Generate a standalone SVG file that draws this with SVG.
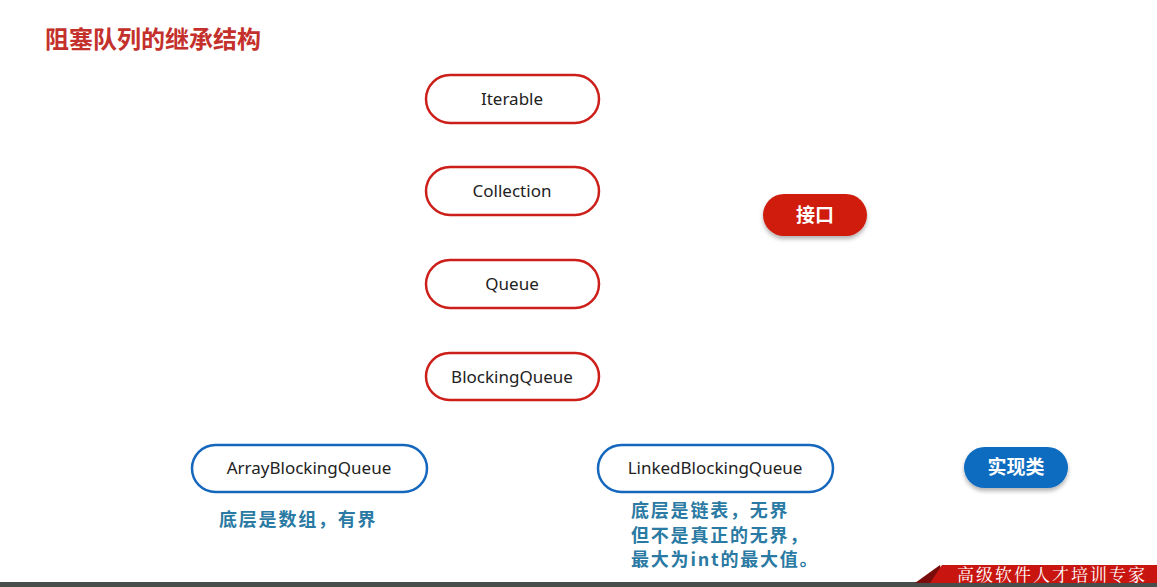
<svg xmlns="http://www.w3.org/2000/svg" width="1157" height="587" viewBox="0 0 1157 587">
<style>
.title{font-family:"Noto Sans CJK SC","Noto Sans",sans-serif;font-weight:bold;font-size:24px;fill:#c4302b}
.ifc rect{fill:#fff;stroke:#cc1f1a;stroke-width:2.5}
.cls rect{fill:#fff;stroke:#1467bd;stroke-width:2.5}
.lbl{font-family:"Noto Sans","Open Sans",sans-serif;font-size:17px;fill:#222;text-anchor:middle}
.btn{font-family:"Noto Sans CJK SC",sans-serif;font-size:19px;fill:#fff;text-anchor:middle;font-weight:bold}
.note{font-family:"Noto Sans CJK SC",sans-serif;font-size:18px;font-weight:bold;fill:#2a7aa3;letter-spacing:1.8px}
.banner{font-family:"Noto Serif CJK SC","Noto Sans CJK SC",serif;font-size:17px;fill:#fff;letter-spacing:2px}
</style>
<defs>
<filter id="sh" x="-20%" y="-20%" width="140%" height="160%"><feDropShadow dx="0" dy="3" stdDeviation="2" flood-color="#000" flood-opacity="0.3"/></filter>
</defs>
<rect width="1157" height="587" fill="#fff"/>
<text class="title" x="45" y="48">阻塞队列的继承结构</text>
<g id="iterable" class="ifc"><rect x="426" y="75" width="173" height="48" rx="24"/><text class="lbl" x="512" y="105">Iterable</text></g>
<g id="collection" class="ifc"><rect x="426" y="167" width="173" height="48" rx="24"/><text class="lbl" x="512" y="197">Collection</text></g>
<g id="queue" class="ifc"><rect x="426" y="260" width="173" height="48" rx="24"/><text class="lbl" x="512" y="290">Queue</text></g>
<g id="blockingqueue" class="ifc"><rect x="426" y="353" width="173" height="47" rx="23.5"/><text class="lbl" x="512" y="383">BlockingQueue</text></g>
<g id="arrayblockingqueue" class="cls"><rect x="192" y="445" width="235" height="47" rx="23.5"/><text class="lbl" x="309" y="474">ArrayBlockingQueue</text></g>
<g id="linkedblockingqueue" class="cls"><rect x="598" y="445" width="235" height="47" rx="23.5"/><text class="lbl" x="715" y="474">LinkedBlockingQueue</text></g>
<g id="legend-interface"><rect x="763" y="194" width="104" height="42" rx="21" fill="#cf1a0e" filter="url(#sh)"/><text class="btn" x="815" y="222">接口</text></g>
<g id="legend-class"><rect x="964" y="447" width="104" height="41" rx="20.5" fill="#0d6cc0" filter="url(#sh)"/><text class="btn" x="1016" y="474">实现类</text></g>
<g id="notes">
<text class="note" x="219" y="526">底层是数组，有界</text>
<text class="note" x="631" y="517">底层是链表，无界</text>
<text class="note" x="631" y="542">但不是真正的无界，</text>
<text class="note" x="631" y="566">最大为int的最大值。</text>
</g>
<g id="connectors"></g>
<g id="footer">
<rect x="0" y="582" width="1157" height="5" fill="#474d4b"/>
<polygon points="915,583 940,565 945,583" fill="#7a0c0c"/>
<polygon points="930,583 942,565 1157,565 1157,583" fill="#c8150f"/>
<text class="banner" x="957" y="581">高级软件人才培训专家</text>
</g>
</svg>
